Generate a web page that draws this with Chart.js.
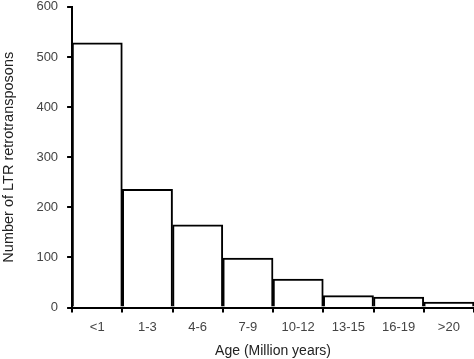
<!DOCTYPE html>
<html>
<head>
<meta charset="utf-8">
<script src="https://cdn.jsdelivr.net/npm/chart.js@4"></script>
<style>
  html, body { margin: 0; padding: 0; background: #fff; overflow: hidden; }
  #wrap { width: 474px; height: 370px; margin-top: -10px; }
</style>
</head>
<body>
<div id="wrap"><canvas id="chartAge"></canvas></div>
<script>
// datos
const ageLabels = ["<1", "1-3", "4-6", "7-9", "10-12", "13-15", "16-19", ">20"];
const ltrCounts = [528, 236, 165, 99, 57, 24, 21, 11];
const yTicks = [0, 100, 200, 300, 400, 500, 600];

const ctx = document.getElementById("chartAge").getContext("2d");
new Chart(ctx, {
  type: "bar",
  data: {
    labels: ageLabels,
    datasets: [{
      data: ltrCounts,
      backgroundColor: "#fff",
      borderColor: "#000",
      borderWidth: 2,
      barPercentage: 1,
      categoryPercentage: 1
    }]
  },
  options: {
    responsive: true,
    maintainAspectRatio: false,
    animation: false,
    layout: { padding: { top: 0, right: 0, left: 0, bottom: 0 } },
    plugins: {
      legend: { display: false },
      tooltip: { enabled: false }
    },
    scales: {
      x: {
        grid: { display: true, drawOnChartArea: false, drawTicks: true, tickLength: 5, color: "#000", lineWidth: 2 },
        border: { display: true, color: "#000", width: 2 },
        ticks: { color: "#444", font: { family: "Liberation Sans", size: 13 }, padding: 7 },
        title: { display: true, text: "Age (Million years)", color: "#222", font: { family: "Liberation Sans", size: 14 }, padding: { top: 1, bottom: 0 } }
      },
      y: {
        min: 0,
        max: 600,
        afterBuildTicks: axis => { axis.ticks = yTicks.map(v => ({ value: v })); },
        grid: { display: true, drawOnChartArea: false, drawTicks: true, tickLength: 5, color: "#000", lineWidth: 2 },
        border: { display: true, color: "#000", width: 2 },
        ticks: { color: "#444", font: { family: "Liberation Sans", size: 13 }, padding: 9 },
        title: { display: true, text: "Number of LTR retrotransposons", color: "#222", font: { family: "Liberation Sans", size: 14.5 }, padding: { top: 0, bottom: 10 } }
      }
    }
  }
});
</script>
</body>
</html>
